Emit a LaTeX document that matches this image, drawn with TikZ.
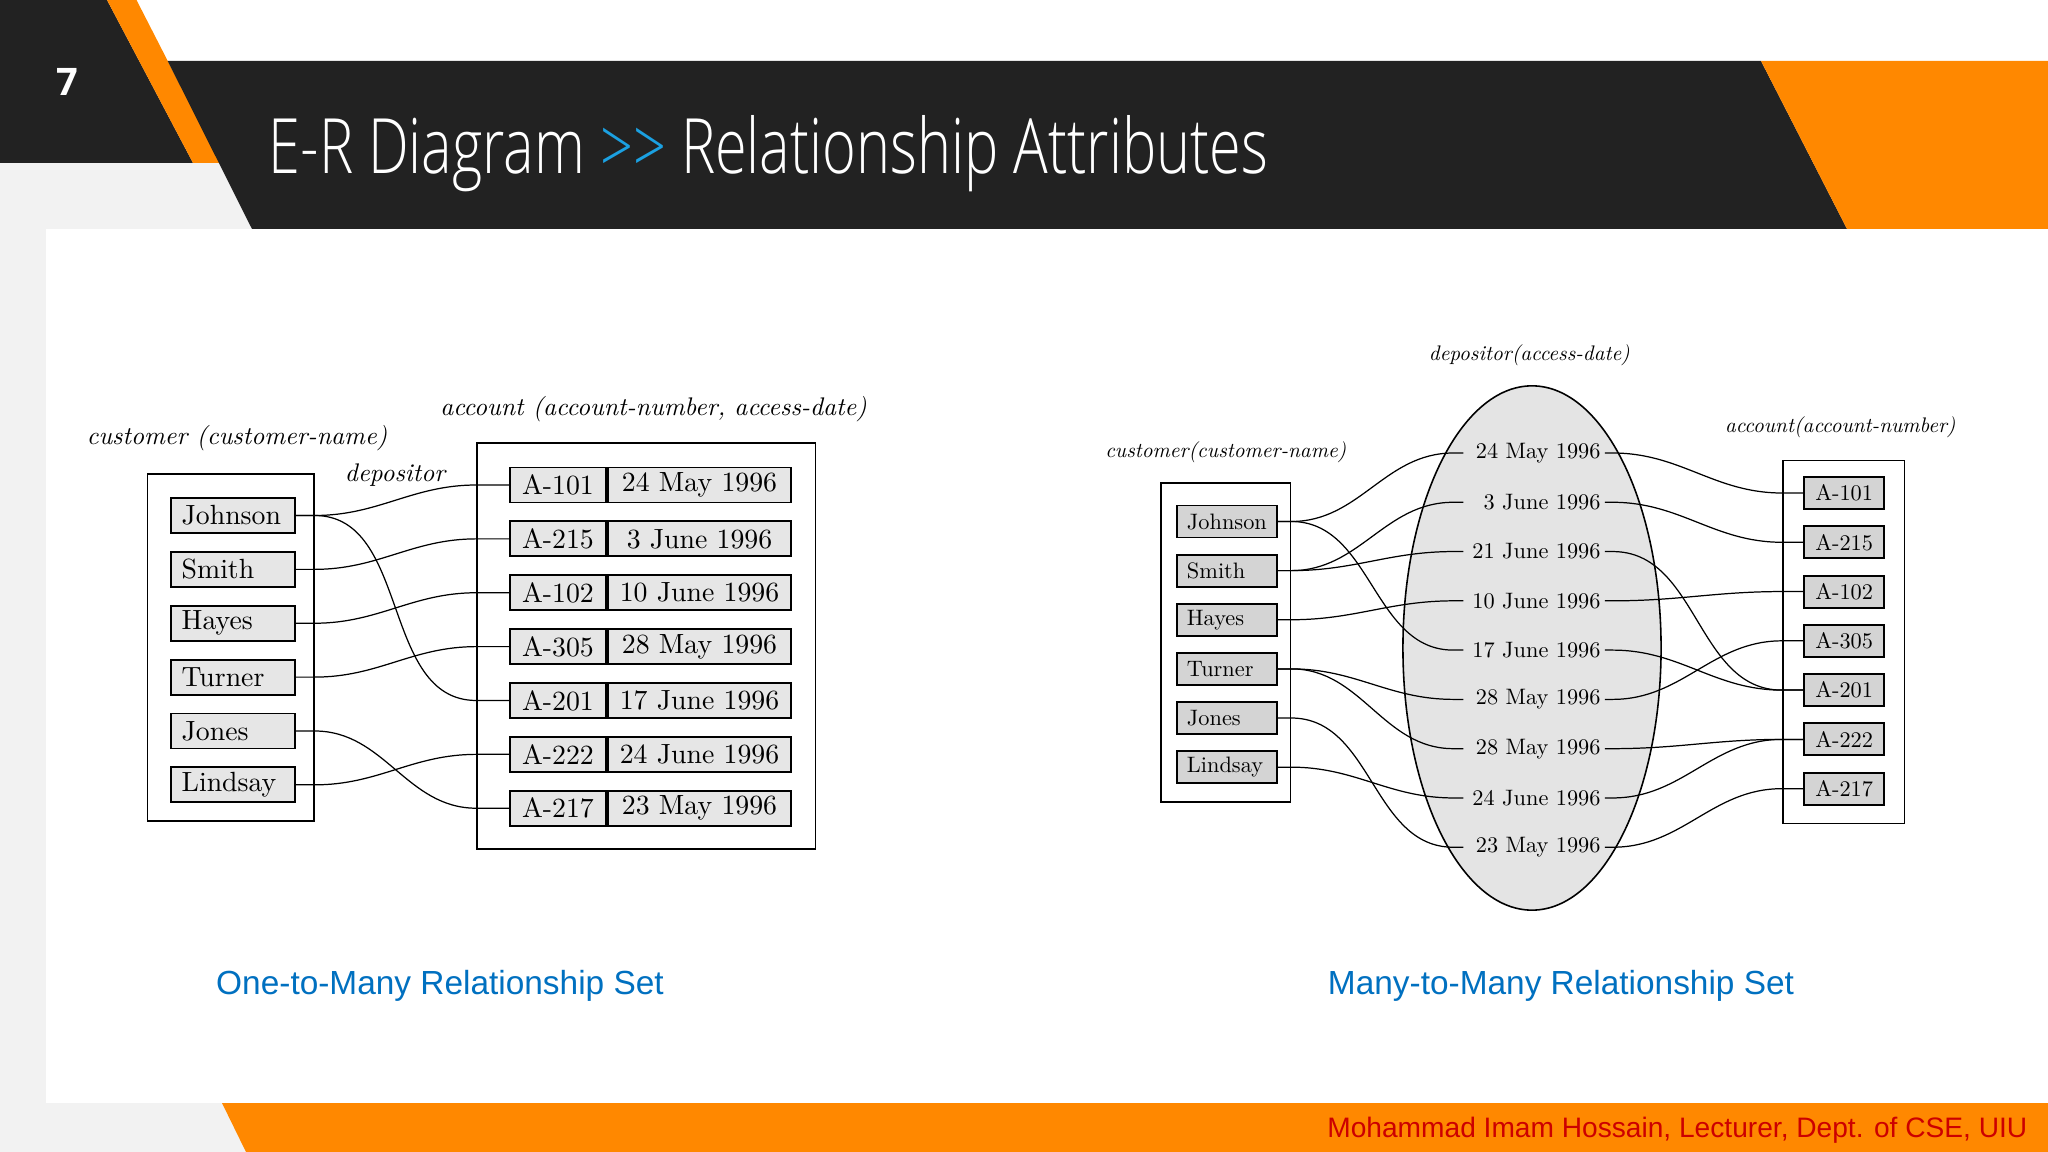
\documentclass[tikz,border=0pt]{standalone}
\usepackage{fontspec}
\usepackage{graphicx}
\usetikzlibrary{positioning, shapes.geometric}

\newfontfamily\titlefont{Open Sans Light}
\newfontfamily\numberfont{Open Sans}
\newfontfamily\slidefont{Liberation Sans}
\newfontfamily\diagfont{lmroman10-regular}[Extension = .otf, ItalicFont = lmroman10-italic]

\definecolor{slidedark}{HTML}{222222}
\definecolor{slideorange}{HTML}{FF8800}
\definecolor{slidegray}{HTML}{F2F2F2}
\definecolor{titleblue}{HTML}{1BA1E2}
\definecolor{captionblue}{HTML}{0070C0}
\definecolor{footerred}{HTML}{CC0000}
\definecolor{cellgray}{HTML}{E6E6E6}
\definecolor{boxgray}{HTML}{D4D4D4}
\definecolor{setgray}{HTML}{E4E4E4}

\begin{document}
\begin{tikzpicture}[
        x = 0.01cm, y = -0.01cm, on grid,
        setlabel/.style = {font = \diagfont\itshape\fontsize{7.25}{9}\selectfont},
        smalllabel/.style = {font = \diagfont\itshape\fontsize{6}{8}\selectfont},
        outerbox/.style = {draw, line width = 0.45pt, inner sep = 0pt},
        namebox/.style = {draw, line width = 0.55pt, fill = cellgray, minimum height = 0.35cm,
            inner ysep = 0pt, inner xsep = 0.11cm, text width = 1.02cm, align = left,
            font = \diagfont\fontsize{7.9}{10}\selectfont},
        numcell/.style = {draw, line width = 0.55pt, fill = cellgray, minimum width = 0.96cm,
            minimum height = 0.35cm, inner sep = 0pt, font = \diagfont\fontsize{7.9}{10}\selectfont},
        datecell/.style = {numcell, minimum width = 1.83cm},
        smallname/.style = {draw, line width = 0.55pt, fill = boxgray, minimum height = 0.32cm,
            inner ysep = 0pt, inner xsep = 0.1cm, text width = 0.8cm, align = left,
            font = \diagfont\fontsize{6.35}{8}\selectfont},
        smallacc/.style = {draw, line width = 0.55pt, fill = boxgray, minimum width = 0.8cm,
            minimum height = 0.32cm, inner sep = 0pt, font = \diagfont\fontsize{6.35}{8}\selectfont},
        datelabel/.style = {inner xsep = 0.035cm, inner ysep = 0pt, text width = 1.33cm, align = right,
            font = \diagfont\fontsize{6.35}{8}\selectfont},
        link/.style = {line width = 0.35pt},
        caption/.style = {text = captionblue, font = \slidefont\fontsize{9.5}{11}\selectfont}
    ]
    \useasboundingbox (0,0) rectangle (2048,1152);

    % slide frame
    \fill[slidegray] (0,0) rectangle (2048,1152);
    \fill[white] (100,0) rectangle (2048,61);
    \fill[white] (46,229) rectangle (2048,1103);
    \fill[slidedark] (0,0) -- (107,0) -- (193,163) -- (0,163) -- cycle;
    \fill[slideorange] (107,0) -- (136.5,0) -- (220,163) -- (193,163) -- cycle;
    \fill[slidedark] (167.7,61) -- (1761,61) -- (1847,229) -- (252,229) -- cycle;
    \fill[slideorange] (1761,61) -- (2048,61) -- (2048,229) -- (1847,229) -- cycle;
    \fill[slideorange] (222,1103) -- (2048,1103) -- (2048,1152) -- (246,1152) -- cycle;

    \node[text = white, font = \numberfont\bfseries\fontsize{10.8}{12}\selectfont] (slideno) at (67,82) {7};
    \node[anchor = base west, inner sep = 0pt, text = white] (title) at (268,173.7)
        {\resizebox{9.99cm}{0.58cm}{\titlefont E-R Diagram \textcolor{titleblue}{>\kern0pt>} Relationship Attributes}};
    \node[anchor = east, inner sep = 0pt, text = footerred, font = \slidefont\fontsize{8}{10}\selectfont] (footer) at (2028,1130)
        {Mohammad Imam Hossain, Lecturer, Dept. of CSE, UIU};

    % one-to-many
    \node[setlabel] (custlabel) at (237,438) {customer (customer-name)};
    \node[setlabel] (deplabel) at (395,475) {depositor};
    \node[setlabel] (acclabel) at (653.5,409) {account (account-number, access-date)};
    \node[outerbox, minimum width = 1.66cm, minimum height = 3.47cm] (custset) at (230.7,647.5) {};
    \node[outerbox, minimum width = 3.38cm, minimum height = 4.06cm] (accset) at (646.3,646) {};

    \begin{scope}[node distance = 0.5384cm]
        \node[namebox] (johnson) at (232.7,515.5) {Johnson};
        \node[namebox, below = of johnson] (smith) {Smith};
        \node[namebox, below = of smith] (hayes) {Hayes};
        \node[namebox, below = of hayes] (turner) {Turner};
        \node[namebox, below = of turner] (jones) {Jones};
        \node[namebox, below = of jones] (lindsay) {Lindsay};

        \node[numcell] (a101) at (558,485) {A-101};
        \node[numcell, below = of a101] (a215) {A-215};
        \node[numcell, below = of a215] (a102) {A-102};
        \node[numcell, below = of a102] (a305) {A-305};
        \node[numcell, below = of a305] (a201) {A-201};
        \node[numcell, below = of a201] (a222) {A-222};
        \node[numcell, below = of a222] (a217) {A-217};
    \end{scope}
    \node[datecell, anchor = west] (d101) at (a101.east) {24 May 1996};
    \node[datecell, anchor = west] (d215) at (a215.east) {3 June 1996};
    \node[datecell, anchor = west] (d102) at (a102.east) {10 June 1996};
    \node[datecell, anchor = west] (d305) at (a305.east) {28 May 1996};
    \node[datecell, anchor = west] (d201) at (a201.east) {17 June 1996};
    \node[datecell, anchor = west] (d222) at (a222.east) {24 June 1996};
    \node[datecell, anchor = west] (d217) at (a217.east) {23 May 1996};

    \draw[link] (johnson.east) -- (johnson.east -| custset.east) to[out = 0, in = 180] (a101.west -| accset.west) -- (a101.west);
    \draw[link] (johnson.east) -- (johnson.east -| custset.east) to[out = 0, in = 180] (a201.west -| accset.west) -- (a201.west);
    \draw[link] (smith.east) -- (smith.east -| custset.east) to[out = 0, in = 180] (a215.west -| accset.west) -- (a215.west);
    \draw[link] (hayes.east) -- (hayes.east -| custset.east) to[out = 0, in = 180] (a102.west -| accset.west) -- (a102.west);
    \draw[link] (turner.east) -- (turner.east -| custset.east) to[out = 0, in = 180] (a305.west -| accset.west) -- (a305.west);
    \draw[link] (jones.east) -- (jones.east -| custset.east) to[out = 0, in = 180] (a217.west -| accset.west) -- (a217.west);
    \draw[link] (lindsay.east) -- (lindsay.east -| custset.east) to[out = 0, in = 180] (a222.west -| accset.west) -- (a222.west);

    % many-to-many
    \node[smalllabel] (rcustlabel) at (1225.8,452) {customer(customer-name)};
    \node[smalllabel] (rdeplabel) at (1529.4,355) {depositor(access-date)};
    \node[smalllabel] (racclabel) at (1840.3,427) {account(account-number)};
    \node[outerbox, minimum width = 1.294cm, minimum height = 3.19cm] (rcustset) at (1225.7,642.5) {};
    \node[outerbox, minimum width = 1.215cm, minimum height = 3.63cm] (raccset) at (1843.5,642) {};
    \node[ellipse, draw, line width = 0.45pt, fill = setgray, inner sep = 0pt,
        minimum width = 2.58cm, minimum height = 5.24cm] (depset) at (1532,648) {};

    \begin{scope}[node distance = 0.491cm]
        \node[smallname] (rjohnson) at (1227,521.5) {Johnson};
        \node[smallname, below = of rjohnson] (rsmith) {Smith};
        \node[smallname, below = of rsmith] (rhayes) {Hayes};
        \node[smallname, below = of rhayes] (rturner) {Turner};
        \node[smallname, below = of rturner] (rjones) {Jones};
        \node[smallname, below = of rjones] (rlindsay) {Lindsay};
    \end{scope}
    \begin{scope}[node distance = 0.4925cm]
        \node[datelabel] (may24) at (1534,453) {24 May 1996};
        \node[datelabel, below = of may24] (jun3) {3 June 1996};
        \node[datelabel, below = of jun3] (jun21) {21 June 1996};
        \node[datelabel, below = of jun21] (jun10) {10 June 1996};
        \node[datelabel, below = of jun10] (jun17) {17 June 1996};
        \node[datelabel, below = of jun17] (may28a) {28 May 1996};
        \node[datelabel, below = of may28a] (may28b) {28 May 1996};
        \node[datelabel, below = of may28b] (jun24) {24 June 1996};
        \node[datelabel, below = of jun24] (may23) {23 May 1996};
    \end{scope}
    \begin{scope}[node distance = 0.4925cm]
        \node[smallacc] (ra101) at (1844.2,493) {A-101};
        \node[smallacc, below = of ra101] (ra215) {A-215};
        \node[smallacc, below = of ra215] (ra102) {A-102};
        \node[smallacc, below = of ra102] (ra305) {A-305};
        \node[smallacc, below = of ra305] (ra201) {A-201};
        \node[smallacc, below = of ra201] (ra222) {A-222};
        \node[smallacc, below = of ra222] (ra217) {A-217};
    \end{scope}

    \draw[link] (rjohnson.east) -- (rjohnson.east -| rcustset.east) to[out = 0, in = 180] ([xshift = -0.1cm]may24.west) -- (may24.west);
    \draw[link] (rjohnson.east) -- (rjohnson.east -| rcustset.east) to[out = 0, in = 180] ([xshift = -0.1cm]jun17.west) -- (jun17.west);
    \draw[link] (rsmith.east) -- (rsmith.east -| rcustset.east) to[out = 0, in = 180] ([xshift = -0.1cm]jun3.west) -- (jun3.west);
    \draw[link] (rsmith.east) -- (rsmith.east -| rcustset.east) to[out = 0, in = 180] ([xshift = -0.1cm]jun21.west) -- (jun21.west);
    \draw[link] (rhayes.east) -- (rhayes.east -| rcustset.east) to[out = 0, in = 180] ([xshift = -0.1cm]jun10.west) -- (jun10.west);
    \draw[link] (rturner.east) -- (rturner.east -| rcustset.east) to[out = 0, in = 180] ([xshift = -0.1cm]may28a.west) -- (may28a.west);
    \draw[link] (rturner.east) -- (rturner.east -| rcustset.east) to[out = 0, in = 180] ([xshift = -0.1cm]may28b.west) -- (may28b.west);
    \draw[link] (rjones.east) -- (rjones.east -| rcustset.east) to[out = 0, in = 180] ([xshift = -0.1cm]may23.west) -- (may23.west);
    \draw[link] (rlindsay.east) -- (rlindsay.east -| rcustset.east) to[out = 0, in = 180] ([xshift = -0.1cm]jun24.west) -- (jun24.west);

    \draw[link] (may24.east) -- ([xshift = 0.08cm]may24.east) to[out = 0, in = 180] (ra101.west -| raccset.west) -- (ra101.west);
    \draw[link] (jun3.east) -- ([xshift = 0.08cm]jun3.east) to[out = 0, in = 180] (ra215.west -| raccset.west) -- (ra215.west);
    \draw[link] (jun21.east) -- ([xshift = 0.08cm]jun21.east) to[out = 0, in = 180] (ra201.west -| raccset.west) -- (ra201.west);
    \draw[link] (jun10.east) -- ([xshift = 0.08cm]jun10.east) to[out = 0, in = 180] (ra102.west -| raccset.west) -- (ra102.west);
    \draw[link] (jun17.east) -- ([xshift = 0.08cm]jun17.east) to[out = 0, in = 180] (ra201.west -| raccset.west) -- (ra201.west);
    \draw[link] (may28a.east) -- ([xshift = 0.08cm]may28a.east) to[out = 0, in = 180] (ra305.west -| raccset.west) -- (ra305.west);
    \draw[link] (may28b.east) -- ([xshift = 0.08cm]may28b.east) to[out = 0, in = 180] (ra222.west -| raccset.west) -- (ra222.west);
    \draw[link] (jun24.east) -- ([xshift = 0.08cm]jun24.east) to[out = 0, in = 180] (ra222.west -| raccset.west) -- (ra222.west);
    \draw[link] (may23.east) -- ([xshift = 0.08cm]may23.east) to[out = 0, in = 180] (ra217.west -| raccset.west) -- (ra217.west);

    \node[caption] (onemany) at (440,986) {One-to-Many Relationship Set};
    \node[caption] (manymany) at (1561,986) {Many-to-Many Relationship Set};
\end{tikzpicture}
\end{document}
